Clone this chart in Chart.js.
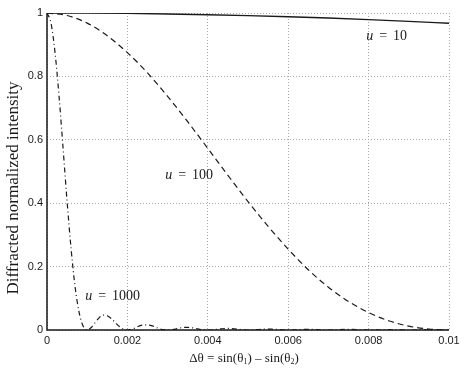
<!DOCTYPE html>
<html>
<head>
<meta charset="utf-8">
<script src="https://cdn.jsdelivr.net/npm/chart.js@4"></script>
<style>
  body { margin: 0; background: #fff; }
  #wrap { width: 474px; height: 369px; }
</style>
</head>
<body>
<div id="wrap"><canvas id="c" width="474" height="369"></canvas></div>
<script>
// u = 10 (solid)
const x10 = [0, 0.001, 0.002, 0.003, 0.004, 0.005, 0.006, 0.007, 0.008, 0.009, 0.01];
const y10 = [1, 0.9997, 0.9987, 0.997, 0.9947, 0.9918, 0.9882, 0.984, 0.979, 0.9735, 0.9675];

// u = 100 (dashed)
const x100 = [0, 0.0005, 0.001, 0.0015, 0.002, 0.0025, 0.003, 0.0035, 0.004, 0.0045, 0.005,
              0.0055, 0.006, 0.0065, 0.007, 0.0075, 0.008, 0.0085, 0.009, 0.0095, 0.01];
const y100 = [1, 0.992, 0.968, 0.928, 0.875, 0.811, 0.737, 0.657, 0.573, 0.488, 0.405,
              0.327, 0.255, 0.19, 0.135, 0.09, 0.055, 0.029, 0.012, 0.003, 0];

// u = 1000 (dash-dot)
const x1000 = [0, 0.0001, 0.0002, 0.0003, 0.0004, 0.0005, 0.0006, 0.0007, 0.0008, 0.0009, 0.001,
               0.0011, 0.0012, 0.0013, 0.0014, 0.0015, 0.0016, 0.0017, 0.0018, 0.0019, 0.002,
               0.0021, 0.0022, 0.0023, 0.0024, 0.0025, 0.0026, 0.0027, 0.0028, 0.0029, 0.003,
               0.0031, 0.0032, 0.0033, 0.0034, 0.0035, 0.0036, 0.0037, 0.0038, 0.0039, 0.004,
               0.0045, 0.005, 0.0055, 0.006, 0.0065, 0.007, 0.0075, 0.008, 0.0085, 0.009, 0.0095, 0.01];
const y1000 = [1, 0.968, 0.875, 0.737, 0.573, 0.405, 0.255, 0.135, 0.055, 0.012, 0,
               0.008, 0.024, 0.039, 0.047, 0.045, 0.036, 0.023, 0.011, 0.003, 0,
               0.002, 0.007, 0.013, 0.016, 0.016, 0.014, 0.009, 0.004, 0.001, 0,
               0.001, 0.003, 0.006, 0.008, 0.008, 0.007, 0.005, 0.002, 0.001, 0,
               0.005, 0, 0.003, 0, 0.002, 0, 0.002, 0, 0.001, 0, 0.001, 0];

const xTicks = [0, 0.002, 0.004, 0.006, 0.008, 0.01];
const yTicks = [0, 0.2, 0.4, 0.6, 0.8, 1];

const toPts = (xs, ys) => xs.map((x, i) => ({ x: x, y: ys[i] }));

const SERIF = '"Liberation Serif", "Times New Roman", serif';
const SANS = '"Liberation Sans", Arial, sans-serif';

// axis lines, axis titles and curve labels
const textPlugin = {
    id: 'texts',
    afterDraw(chart) {
        const ctx = chart.ctx;
        const xs = chart.scales.x, ys = chart.scales.y;
        const a = chart.chartArea;
        ctx.save();

        // solid left + bottom axes
        ctx.strokeStyle = '#1a1a1a';
        ctx.lineWidth = 1.5;
        ctx.beginPath();
        ctx.moveTo(a.left, a.top);
        ctx.lineTo(a.left, a.bottom);
        ctx.lineTo(a.right, a.bottom);
        ctx.stroke();

        ctx.fillStyle = '#1a1a1a';
        ctx.textBaseline = 'middle';

        // curve labels
        const labels = [
            { txt: '10', x: 0.00794, y: 0.927 },
            { txt: '100', x: 0.00294, y: 0.489 },
            { txt: '1000', x: 0.00095, y: 0.107 }
        ];
        labels.forEach(l => {
            let px = xs.getPixelForValue(l.x);
            const py = ys.getPixelForValue(l.y);
            ctx.textAlign = 'left';
            ctx.font = 'italic 14px ' + SERIF;
            ctx.fillText('u', px, py);
            px += ctx.measureText('u').width + 6;
            ctx.font = '14px ' + SERIF;
            ctx.fillText('=', px, py);
            px += ctx.measureText('=').width + 6;
            ctx.fillText(l.txt, px, py);
        });

        // y title
        ctx.save();
        ctx.translate(14, 188);
        ctx.rotate(-Math.PI / 2);
        ctx.textAlign = 'center';
        ctx.font = '17px ' + SERIF;
        ctx.fillText('Diffracted normalized intensity', 0, 0);
        ctx.restore();

        // x title with subscripts
        const parts = [
            ['\u0394\u03b8 = sin(\u03b8', 13, 0],
            ['1', 8, 3],
            [') \u2013 sin(\u03b8', 13, 0],
            ['2', 8, 3],
            [')', 13, 0]
        ];
        let total = 0;
        parts.forEach(p => { ctx.font = p[1] + 'px ' + SERIF; total += ctx.measureText(p[0]).width; });
        let cx = 244 - total / 2;
        ctx.textAlign = 'left';
        parts.forEach(p => {
            ctx.font = p[1] + 'px ' + SERIF;
            ctx.fillText(p[0], cx, 359 + p[2]);
            cx += ctx.measureText(p[0]).width;
        });
        ctx.restore();
    }
};

const gridOpts = { color: '#a8a8a8', drawTicks: false, lineWidth: 1 };
const borderOpts = { display: false, dash: [1, 2] };

new Chart(document.getElementById('c').getContext('2d'), {
    type: 'line',
    data: {
        datasets: [
            { label: 'u = 10', data: toPts(x10, y10), borderColor: '#1a1a1a', borderWidth: 1.4, pointRadius: 0, cubicInterpolationMode: 'monotone', fill: false },
            { label: 'u = 100', data: toPts(x100, y100), borderColor: '#1a1a1a', borderWidth: 1.2, borderDash: [6, 4], pointRadius: 0, cubicInterpolationMode: 'monotone', fill: false },
            { label: 'u = 1000', data: toPts(x1000, y1000), borderColor: '#1a1a1a', borderWidth: 1.2, borderDash: [5, 3, 1, 3], pointRadius: 0, cubicInterpolationMode: 'monotone', fill: false }
        ]
    },
    options: {
        responsive: false,
        animation: false,
        events: [],
        layout: { padding: { top: 13, right: 25, left: 0, bottom: 0 } },
        plugins: { legend: { display: false }, tooltip: { enabled: false } },
        scales: {
            x: {
                type: 'linear',
                min: 0, max: 0.01,
                afterBuildTicks: s => { s.ticks = xTicks.map(v => ({ value: v })); },
                afterFit: s => { s.height = 39; },
                grid: gridOpts,
                border: borderOpts,
                ticks: {
                    padding: 4,
                    color: '#1a1a1a',
                    font: { family: SANS, size: 11 },
                    callback: v => (v === 0 ? '0' : String(+v.toFixed(3)))
                }
            },
            y: {
                type: 'linear',
                min: 0, max: 1,
                afterBuildTicks: s => { s.ticks = yTicks.map(v => ({ value: v })); },
                afterFit: s => { s.width = 47; },
                grid: gridOpts,
                border: borderOpts,
                ticks: {
                    padding: 4,
                    color: '#1a1a1a',
                    font: { family: SANS, size: 11 },
                    callback: v => (v === 0 ? '0' : v === 1 ? '1' : String(+v.toFixed(1)))
                }
            }
        }
    },
    plugins: [textPlugin]
});
</script>
</body>
</html>
